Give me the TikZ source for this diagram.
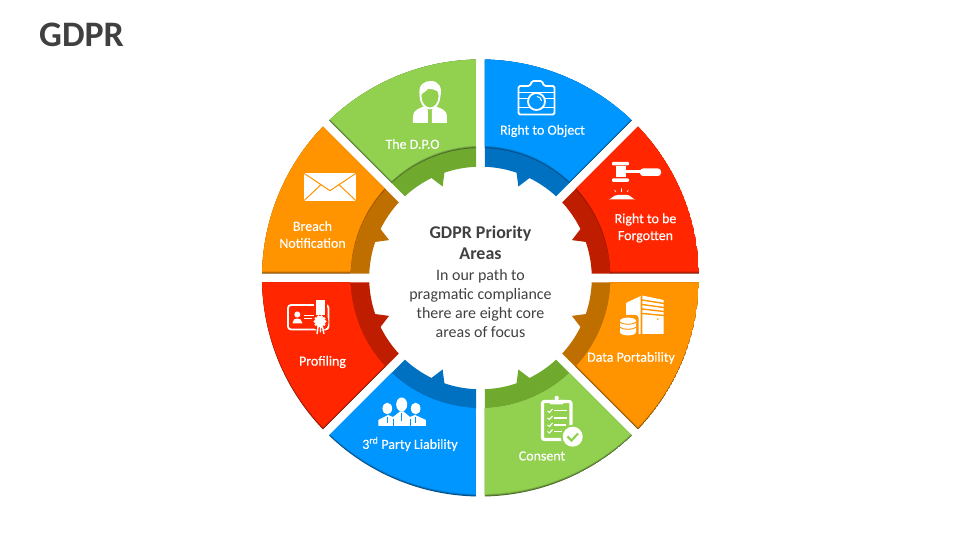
\documentclass[tikz,border=0pt]{standalone}
\usepackage{fontspec}
\setmainfont{Carlito}
\newfontfamily\labelfont[FakeBold=0.25]{Carlito}
\definecolor{greenseg}{HTML}{92D050}
\definecolor{greenband}{HTML}{6FA92E}
\definecolor{blueseg}{HTML}{0096FF}
\definecolor{blueband}{HTML}{0070C0}
\definecolor{redseg}{HTML}{FF2600}
\definecolor{redband}{HTML}{BF1D00}
\definecolor{orangeseg}{HTML}{FF9300}
\definecolor{orangeband}{HTML}{BF6E00}
\definecolor{titlegrey}{HTML}{404040}
\tikzset{
	segmentlabel/.style={white,align=center,font=\fontsize{14}{17}\labelfont,inner sep=0pt},%
	centertitle/.style={titlegrey,align=center,font=\fontsize{18}{21}\selectfont\bfseries,inner sep=0pt},%
	centerbody/.style={titlegrey,align=center,font=\fontsize{16}{19.3}\selectfont,inner sep=0pt},%
	iconfill/.style={fill=white,draw=none},%
	iconline/.style={white,line width=1.8,line cap=round,line join=round},%
}
% start angle, face colour, band colour
\newcommand{\prioritysegment}[3]{%
	\pgfmathsetmacro{\outerA}{#1+asin(4.3/218.5)}%
	\pgfmathsetmacro{\outerB}{#1+45-asin(4.3/218.5)}%
	\pgfmathsetmacro{\midA}{#1+asin(4.3/130)}%
	\pgfmathsetmacro{\midB}{#1+45-asin(4.3/130)}%
	\pgfmathsetmacro{\innerA}{#1+asin(4.3/111.3)}%
	\pgfmathsetmacro{\innerB}{#1+45-asin(4.3/111.3)}%
	\pgfmathsetmacro{\toothA}{#1+22.5-3.6}%
	\pgfmathsetmacro{\toothB}{#1+22.5+3.6}%
	\pgfmathsetmacro{\toothC}{#1+22.5}%
	\fill[#3] (\midA:131) arc[start angle=\midA,end angle=\midB,radius=131] -- (\innerB:111.3)
		arc[start angle=\innerB,end angle=\toothB,radius=111.3] -- (\toothC:99) -- (\toothA:111.3)
		arc[start angle=\toothA,end angle=\innerA,radius=111.3] -- cycle;
	\def\facepath{(\outerA:218.5) arc[start angle=\outerA,end angle=\outerB,radius=218.5] -- (\midB:130) arc[start angle=\midB,end angle=\midA,radius=130] -- cycle}%
	\begin{scope}
		\clip \facepath;
		\fill[#2!50!black] \facepath;
		\fill[#2!70!black,yshift=0.8] \facepath;
		\fill[#2!87!black,yshift=1.6] \facepath;
		\fill[#2,yshift=2.4] \facepath;
	\end{scope}
}

\begin{document}
\begin{tikzpicture}[x=1bp,y=1bp]
	\useasboundingbox (-480.5,-262) rectangle (479.5,278);
	% Ring {{{
	\prioritysegment{45}{blueseg}{blueband}
	\prioritysegment{90}{greenseg}{greenband}
	\prioritysegment{135}{orangeseg}{orangeband}
	\prioritysegment{180}{redseg}{redband}
	\prioritysegment{225}{blueseg}{blueband}
	\prioritysegment{270}{greenseg}{greenband}
	\prioritysegment{315}{orangeseg}{orangeband}
	\prioritysegment{0}{redseg}{redband}
	% }}}
	\begin{scope}[shift={(-480.5,278)},yscale=-1]
		% Person {{{
		\draw[iconline] (430,96) ellipse (9.5 and 12.5);
		\fill[iconfill] (420,97) .. controls (417,84) and (425,81) .. (431,81) .. controls (439,81) and (443,88) .. (440,97) .. controls (439,91) and (436,89) .. (428,89) .. controls (425,93) and (422,92) .. cycle;
		\fill[iconfill] (413,123) -- (413,116) .. controls (413,110) and (420,108) .. (425,106) -- (428,110) -- (428,123) -- cycle;
		\fill[iconfill] (447,123) -- (447,116) .. controls (447,110) and (440,108) .. (435,106) -- (432,110) -- (432,123) -- cycle;
		% }}}
		% Camera {{{
		\draw[iconline,rounded corners=1.5] (518.5,86) -- (530,86) -- (532,81) -- (542,81) -- (544,86) -- (554.5,86) -- (554.5,114.5) -- (518.5,114.5) -- cycle;
		\draw[iconline] (518.5,92.5) -- (554.5,92.5) (518.5,98.5) -- (554.5,98.5) (518.5,107.5) -- (554.5,107.5);
		\draw[iconline,fill=blueseg] (536.5,101.5) circle (8.5);
		\draw[white,line width=1] (537,96.5) .. controls (539.5,96.5) and (541.5,98.5) .. (541.5,101);
		% }}}
		% Gavel {{{
		\fill[iconfill,rounded corners=1] (612,162) rectangle (629,165.5);
		\fill[iconfill] (616,166.5) rectangle (626,177);
		\fill[iconfill,rounded corners=1] (612,178.5) rectangle (629,182);
		\fill[iconfill] (626,170) rectangle (641,173);
		\fill[iconfill,rounded corners=3] (640,168.5) rectangle (661,176);
		\fill[iconfill] (608.5,199.5) .. controls (612,199) and (613,195) .. (618,195) -- (627,195) .. controls (631,195) and (632,199) .. (635.5,199.5) -- cycle;
		\draw[white,line width=0.6] (616,192) -- (614.5,190) (621.5,192) -- (621.5,188.5) (627,192) -- (628.5,190);
		% }}}
		% Server {{{
		\fill[iconfill] (626,303) -- (640.7,296) -- (640.7,334) -- (626,334) -- cycle;
		\fill[iconfill] (642.3,295.5) -- (663.5,300) -- (663.5,334) -- (642.3,334) -- cycle;
		\draw[orangeseg,line width=1.4] (642,300) -- (664,303.5) (642,304.5) -- (664,307.5) (642,309) -- (664,311.5) (642,313.5) -- (664,315.5);
		\fill[orangeseg] (657.7,319.3) circle (0.9);
		\fill[orangeseg,rounded corners=3] (617.5,315) rectangle (638.5,338);
		\fill[iconfill] (620,321) .. controls (620,316.5) and (636,316.5) .. (636,321) -- (636,332) .. controls (636,336.5) and (620,336.5) .. (620,332) -- cycle;
		\draw[orangeseg,line width=0.9] (620,322) .. controls (622,325) and (634,325) .. (636,322) (620,327) .. controls (622,330) and (634,330) .. (636,327);
		% }}}
		% Clipboard {{{
		\draw[iconline,line width=3.2,rounded corners=2] (542.5,401.5) rectangle (571,439.5);
		\fill[iconfill,rounded corners=1] (550,400) rectangle (563.5,404.5);
		\fill[iconfill] (556.7,398) circle (2.2);
		\foreach \rowy in {411,418,425,431.5} {
			\draw[white,line width=1.1] (547.5,\rowy) -- (549.5,\rowy+1.5) -- (552.5,\rowy-2);
		}
		\draw[white,line width=1.6] (554.5,410.5) -- (567,410.5) (554.5,418) -- (567,418) (554.5,425) -- (566,425) (554.5,431.5) -- (563,431.5);
		\fill[greenseg] (572.7,436.7) circle (12);
		\fill[iconfill] (572.7,436.7) circle (10);
		\draw[greenseg,line width=2.2] (567.5,436.5) -- (571.5,440.5) -- (578,433.5);
		% }}}
		% Team {{{
		\fill[iconfill] (401.7,404.5) ellipse (5.5 and 7);
		\fill[iconfill] (387.3,408.5) ellipse (4.8 and 5.8);
		\fill[iconfill] (415.7,408.5) ellipse (4.8 and 5.8);
		\fill[iconfill] (378.3,426) -- (378.3,420) -- (388,415) -- (393,417) -- (400,411.5) -- (403.5,411.5) -- (410,417) -- (415,415) -- (426,420) -- (426,426) -- cycle;
		\draw[blueseg,line width=1] (401.7,413) -- (401.7,421) (387.5,417) -- (387.5,423) (415.7,417) -- (415.7,423);
		\draw[blueseg,line width=0.6] (393.5,419) -- (393.5,426) (410,419) -- (410,426);
		% }}}
		% Certificate {{{
		\draw[iconline,line width=1.8,rounded corners=3] (288,305) rectangle (328.5,329.5);
		\fill[iconfill] (297.3,314.5) circle (3);
		\fill[iconfill] (292.5,323.5) -- (294,319.5) -- (297.3,318.5) -- (300.6,319.5) -- (302.5,323.5) -- cycle;
		\draw[white,line width=1.3] (304,315.5) -- (315,315.5) (304,318.5) -- (315,318.5);
		\fill[redseg] (314,300) rectangle (327,316);
		\fill[redseg] (320,322) circle (8.6);
		\fill[iconfill] (316,300.5) rectangle (325,315);
		\foreach \petal in {0,36,...,324} {
			\fill[iconfill] (320,321.5) ++(\petal:5) circle (1.6);
		}
		\fill[iconfill] (320,321.5) circle (5.2);
		\draw[white,line width=1.4] (318,327) -- (317,334) (320.5,327) -- (320.5,332.5) (322.5,327) -- (324,334);
		% }}}
		% Envelope {{{
		\fill[iconfill] (304,173.3) rectangle (356,200.7);
		\draw[orangeseg,line width=1] (304,173.3) -- (330,190.7) -- (356,173.3) (304,200.7) -- (320.7,185) (356,200.7) -- (339.3,185);
		% }}}
		% Labels {{{
		\node[anchor=west,titlegrey,font=\fontsize{36}{42}\selectfont\bfseries,inner sep=0pt] (title) at (39,35) {GDPR};
		\node[segmentlabel] (dpo) at (412.5,144) {The D.P.O};
		\node[segmentlabel] (object) at (542.5,131) {Right to Object};
		\node[segmentlabel] (forgotten) at (645.5,228) {Right to be\\Forgotten};
		\node[segmentlabel] (portability) at (631,358) {Data Portability};
		\node[segmentlabel] (consent) at (542,456) {Consent};
		\node[segmentlabel] (liability) at (410,444) {3\textsuperscript{rd} Party Liability};
		\node[segmentlabel] (profiling) at (322.5,362) {Profiling};
		\node[segmentlabel] (breach) at (312.5,234.5) {Breach\\Notification};
		\node[centertitle] (areas) at (480.5,242.5) {GDPR Priority\\Areas};
		\node[centerbody] (focus) at (480.5,303.5) {In our path to\\pragmatic compliance\\there are eight core\\areas of focus};
		% }}}
	\end{scope}
\end{tikzpicture}
\end{document}
